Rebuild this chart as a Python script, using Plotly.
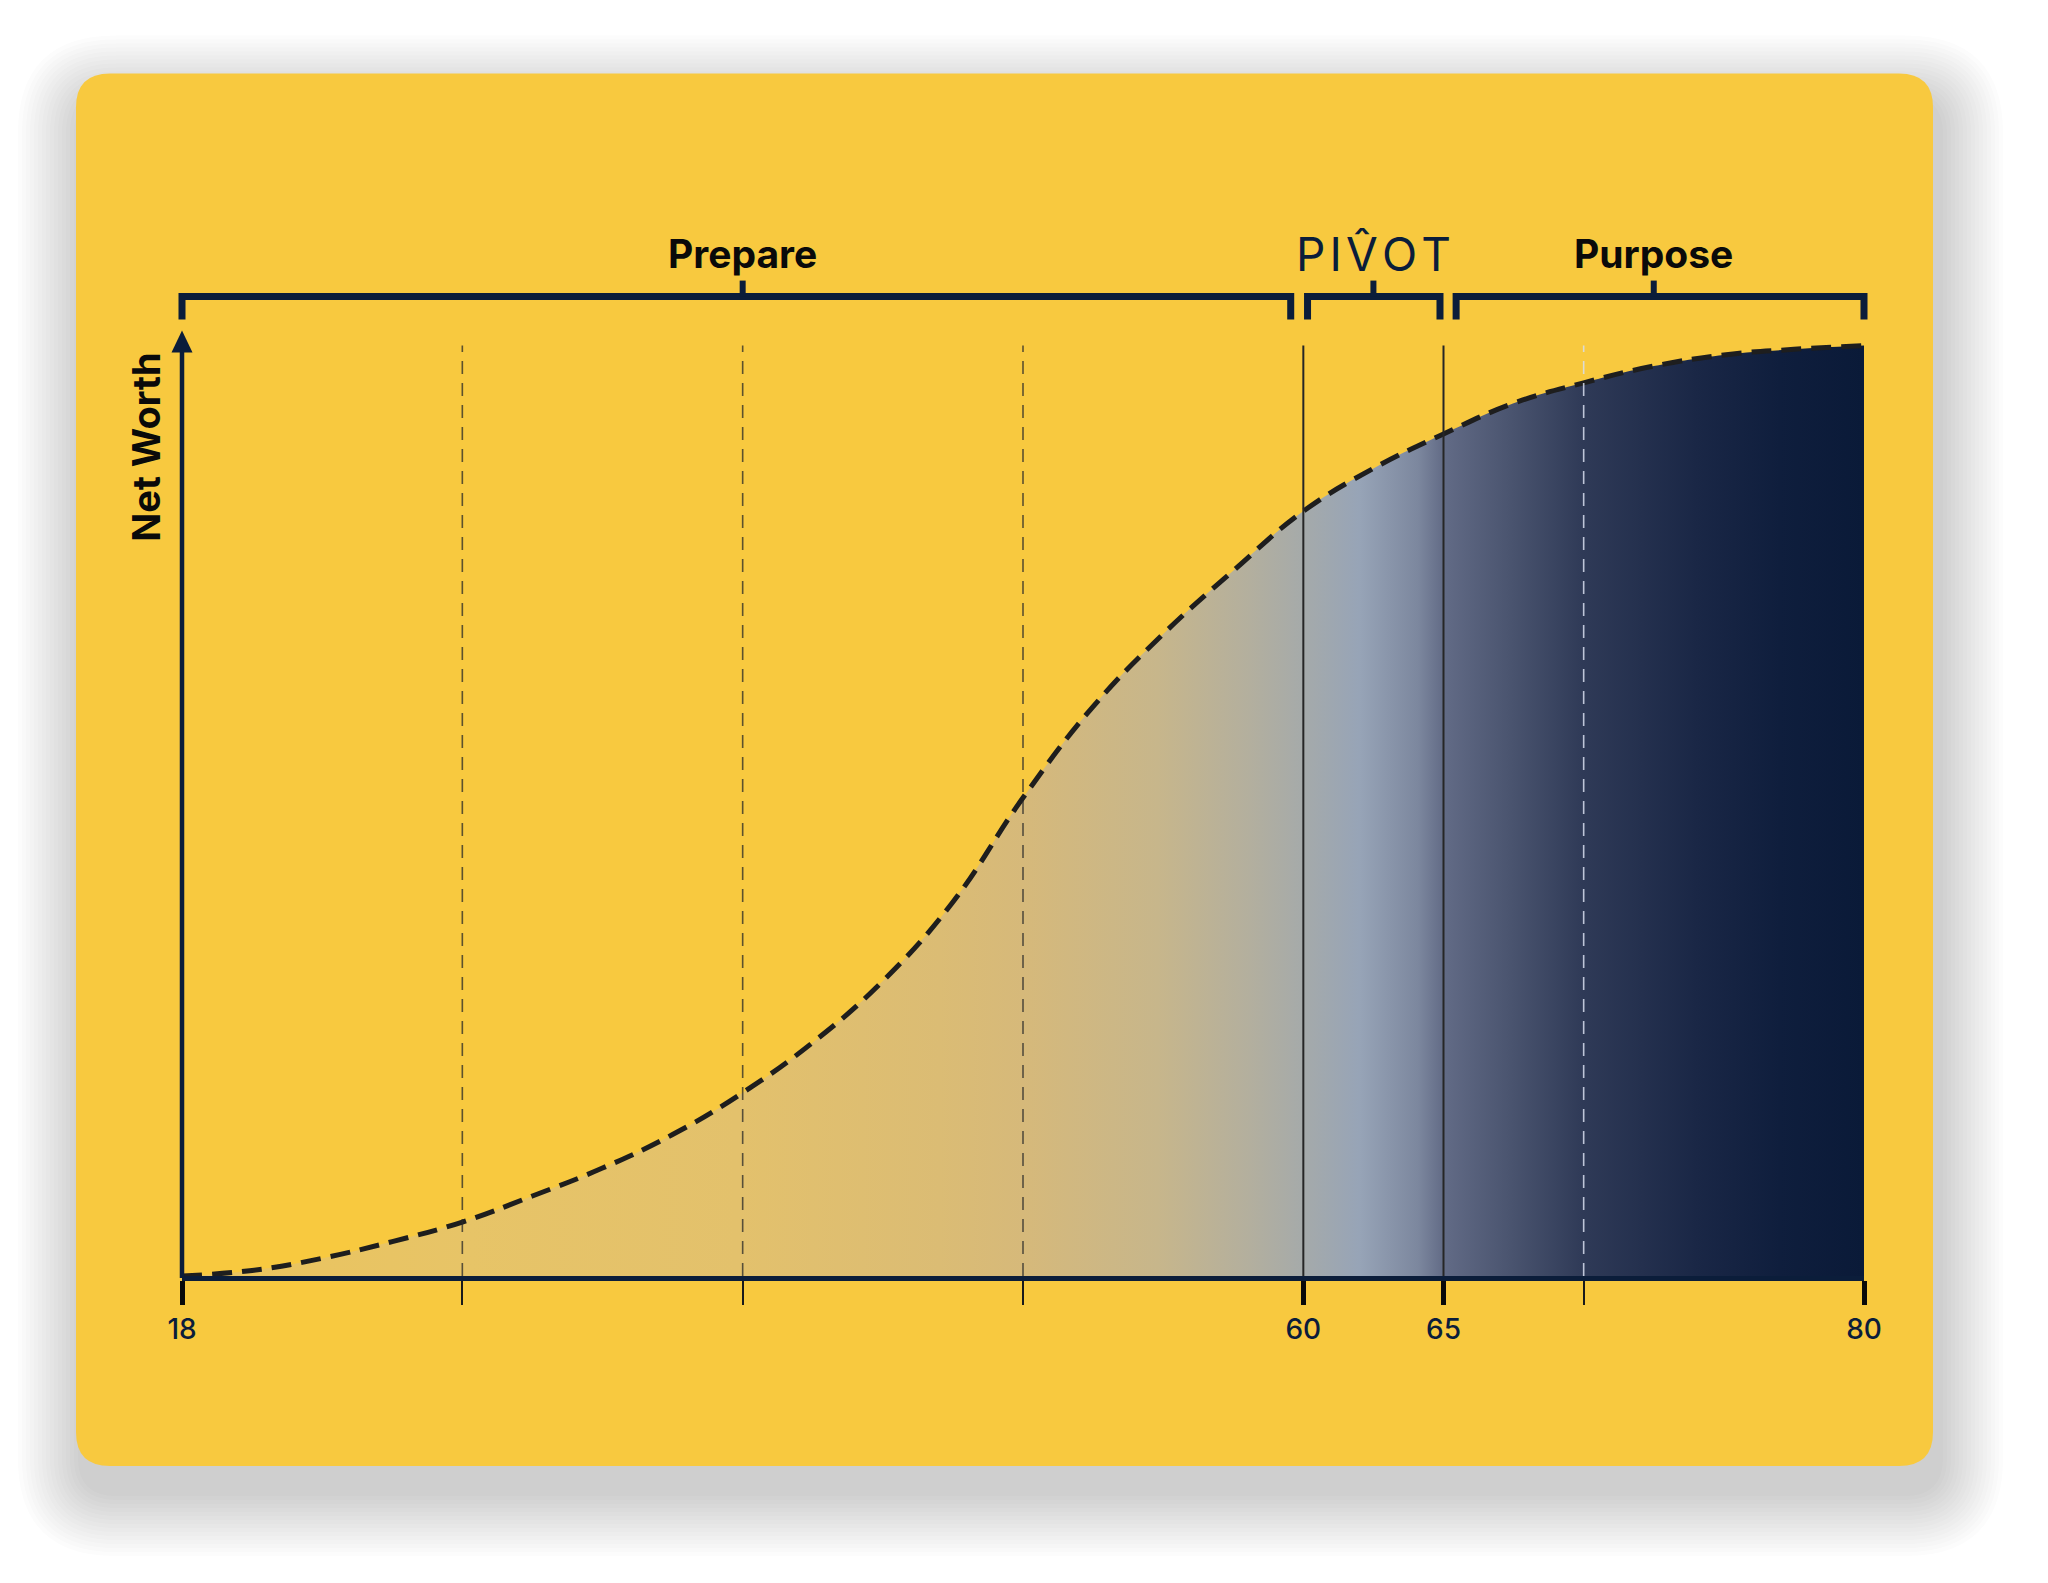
import plotly.graph_objects as go

# ---------------- data ----------------
# horizontal position along the life line (12 equal units = plot width)
x_pos = [0, 0.5, 1, 1.5, 2, 2.5, 3, 3.5, 4, 4.5, 5, 5.5, 6, 6.5, 7, 7.5, 8,
         8.5, 9, 9.5, 10, 10.5, 11, 11.5, 12]
net_worth = [0, 0.6, 1.9, 3.7, 5.8, 8.6, 11.6, 15.2, 19.7, 25.1, 31.7, 40.2,
             51.4, 61.2, 69.0, 75.8, 82.2, 86.8, 90.5, 93.8, 96.0, 97.8, 99.0,
             99.6, 100]

age_tick_pos = [0, 8, 9, 12]
age_tick_labels = ["18", "60", "65", "80"]
minor_tick_pos = [2, 4, 6, 10]

dashed_guides = [2, 4, 6]
solid_guides = [8, 9]
light_guides = [10]

stage_names = ["Prepare", "P\u200aI\u200aV\u0302\u200aO\u200aT", "Purpose"]
stage_start = [0.0, 8.03, 9.09]
stage_end = [7.91, 8.975, 12.0]
stage_center = [4.0, 8.5, 10.5]

# gradient stops (fraction of width, colour)
grad_stops = [
    [0.00, "#EBC45C"], [0.17, "#E7C467"], [0.33, "#E3C16C"], [0.45, "#DBBC74"],
    [0.50, "#D6B97A"], [0.58, "#C7B68B"], [0.635, "#B3AF9E"], [0.667, "#A5AAAA"],
    [0.70, "#97A4B7"], [0.735, "#7C879E"], [0.75, "#626B86"], [0.79, "#4A546F"],
    [0.833, "#2F3A57"], [0.90, "#1A2746"], [0.95, "#0F1E3D"], [1.00, "#0A1A38"],
]

NAVY = "#0B1D3A"
CARD = "#F8C93F"

# ---------------- geometry helpers (decoration only) ----------------
OFF = 8  # default page body margin
W, H = 2048 - 2 * OFF, 1583 - 2 * OFF
X_LEFT, X_RIGHT, Y_BASE = 182 - OFF, 1864 - OFF, 1276 - OFF
L = X_LEFT
R = W - X_RIGHT
B = H - Y_BASE
PH_UNITS = 102
PX_PER_UNIT = 930 / 100
PH = PH_UNITS * PX_PER_UNIT
T = H - B - PH
PW = X_RIGHT - X_LEFT


def fx(X):
    """page x pixel -> paper"""
    return (X - OFF - L) / PW


def fy(Y):
    """page y pixel -> paper"""
    return (Y_BASE - (Y - OFF)) / PH


def rrect(X0, Y0, X1, Y1, r):
    x0, x1, y0, y1 = fx(X0), fx(X1), fy(Y0), fy(Y1)
    rx, ry = r / PW, r / PH
    return (f"M {x0+rx},{y0} L {x1-rx},{y0} Q {x1},{y0} {x1},{y0-ry} "
            f"L {x1},{y1+ry} Q {x1},{y1} {x1-rx},{y1} L {x0+rx},{y1} "
            f"Q {x0},{y1} {x0},{y1+ry} L {x0},{y0-ry} Q {x0},{y0} {x0+rx},{y0} Z")


fig = go.Figure()

fig.add_trace(go.Scatter(
    x=x_pos, y=net_worth, mode="lines",
    line=dict(color="#1E1E1E", width=5, dash="20px,10px", shape="spline", smoothing=1.2),
    fill="tozeroy",
    fillgradient=dict(type="horizontal", colorscale=grad_stops),
    hoverinfo="skip", showlegend=False,
))

shapes = []
# card shadow
CX0, CY0, CX1, CY1, CR = 76, 74, 1933, 1466, 34
N = 16
for i in range(N):
    e = 4 * (i + 1)
    shapes.append(dict(type="path", xref="paper", yref="paper", layer="below",
                       path=rrect(CX0 - e + 6, CY0 - e + 26, CX1 + e + 6, CY1 + e + 26, CR + e),
                       fillcolor="rgba(70,70,70,0.014)", line=dict(width=0)))
# card
shapes.append(dict(type="path", xref="paper", yref="paper", layer="below",
                   path=rrect(CX0, CY0, CX1, CY1, CR),
                   fillcolor=CARD, line=dict(width=0)))

# guide lines
for g in dashed_guides:
    shapes.append(dict(type="line", xref="x", yref="y", x0=g, x1=g, y0=0, y1=100,
                       line=dict(color="rgba(40,40,40,0.75)", width=1.6, dash="13px,9px"),
                       layer="above"))
for g in solid_guides:
    shapes.append(dict(type="line", xref="x", yref="y", x0=g, x1=g, y0=0, y1=100,
                       line=dict(color="#262626", width=2), layer="above"))
for g in light_guides:
    shapes.append(dict(type="line", xref="x", yref="y", x0=g, x1=g, y0=0, y1=100,
                       line=dict(color="rgba(215,222,238,0.85)", width=1.6, dash="13px,9px"),
                       layer="above"))

# y axis with arrow
shapes.append(dict(type="line", xref="paper", yref="paper", x0=0, x1=0, y0=fy(1278), y1=fy(350),
                   line=dict(color=NAVY, width=4.5)))
aw = 10.5 / PW
shapes.append(dict(type="path", xref="paper", yref="paper",
                   path=f"M {-aw},{fy(353)} L 0,{fy(331)} L {aw},{fy(353)} Z",
                   fillcolor=NAVY, line=dict(width=0)))

# brackets (positions in plot-width fractions of the 12-unit x axis)
yl, ye, yt = fy(297), fy(320), fy(281)
for s, e, c in zip(stage_start, stage_end, stage_center):
    ps, pe, pc = s / 12, e / 12, c / 12
    shapes.append(dict(type="path", xref="paper", yref="paper",
                       path=f"M {ps},{ye} L {ps},{yl} L {pe},{yl} L {pe},{ye}",
                       line=dict(color=NAVY, width=7)))
    shapes.append(dict(type="line", xref="paper", yref="paper", x0=pc, x1=pc, y0=yl, y1=yt,
                       line=dict(color=NAVY, width=6)))

annotations = []
for name, c in zip(stage_names, stage_center):
    pivot = name.startswith("P\u200a")
    annotations.append(dict(
        x=c, y=fy(254), xref="x", yref="paper", text=name, showarrow=False,
        xanchor="center", yanchor="middle",
        font=dict(family="Inter, Lato, sans-serif", size=46 if pivot else 39,
                  color=NAVY if pivot else "#0A0A0A", weight=400 if pivot else 700),
    ))
annotations.append(dict(
    x=fx(146), y=fy(448), xref="paper", yref="paper", text="Net Worth", showarrow=False,
    textangle=-90, xanchor="center", yanchor="middle",
    font=dict(family="Inter, Lato, sans-serif", size=38, color="#0A0A0A", weight=700),
))

fig.update_layout(
    width=W, height=H,
    margin=dict(l=L, r=R, t=T, b=B, pad=0),
    paper_bgcolor="white", plot_bgcolor="rgba(0,0,0,0)",
    shapes=shapes, annotations=annotations,
    xaxis=dict(range=[0, 12], showgrid=False, zeroline=False, showline=True,
               linecolor=NAVY, linewidth=5,
               tickmode="array", tickvals=age_tick_pos, ticktext=age_tick_labels,
               ticks="outside", ticklen=24, tickwidth=5, tickcolor="#0A0A0A",
               tickfont=dict(family="Inter, Lato, sans-serif", size=28, color=NAVY, weight=500),
               minor=dict(tickmode="array", tickvals=minor_tick_pos, ticks="outside",
                          ticklen=24, tickwidth=2, tickcolor="#1A1A1A", showgrid=False),
               fixedrange=True),
    yaxis=dict(range=[0, PH_UNITS], showgrid=False, zeroline=False, showline=False,
               showticklabels=False, ticks="", fixedrange=True),
)

fig.write_html("out.html")
